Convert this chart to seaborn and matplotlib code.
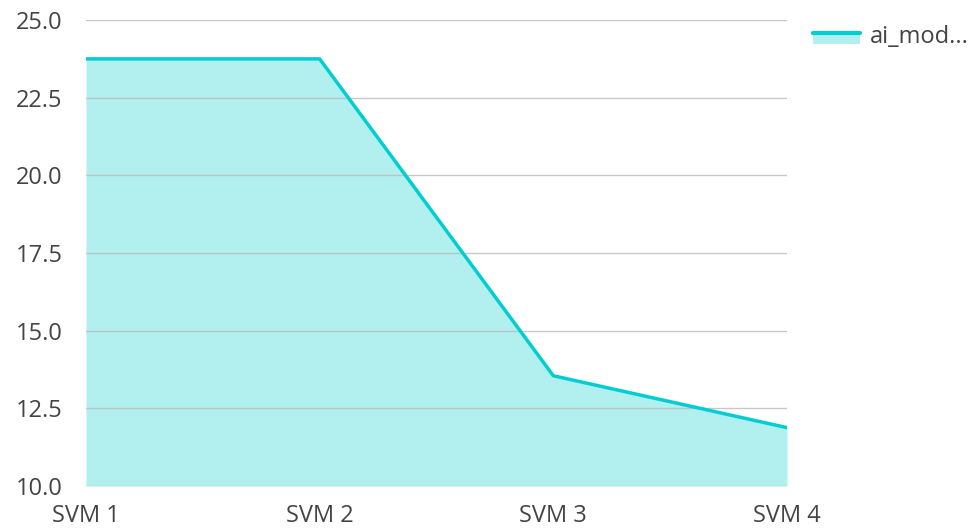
import matplotlib
matplotlib.use("Agg")
import matplotlib.pyplot as plt
import seaborn as sns
import pandas as pd
from matplotlib.legend_handler import HandlerBase
from matplotlib.patches import Rectangle
from matplotlib.lines import Line2D

# data
models = ["SVM 1", "SVM 2", "SVM 3", "SVM 4"]
scores = [23.75, 23.75, 13.55, 11.88]
series_label = "ai_mod..."

y_ticks = [10.0, 12.5, 15.0, 17.5, 20.0, 22.5, 25.0]

line_color = "#00CED1"
fill_color = "#B2EFEF"
text_color = "#444444"

df = pd.DataFrame({"model": models, "score": scores})
df["pos"] = range(len(models))

sns.set_theme(style="white")
plt.rcParams["font.family"] = ["Open Sans", "DejaVu Sans"]

fig = plt.figure(figsize=(9.77, 5.28), dpi=100)
ax = fig.add_axes([0.088, 0.0795, 0.7175, 0.8825])

ax.fill_between(df["pos"], 10, df["score"], color=fill_color, linewidth=0, zorder=1)
sns.lineplot(data=df, x="pos", y="score", color=line_color, linewidth=2.5,
             ax=ax, zorder=3, legend=False)

ax.set_xlim(0, len(models) - 1)
ax.set_ylim(10, 25)
ax.set_yticks(y_ticks)
ax.set_yticklabels([f"{v:.1f}" for v in y_ticks])
ax.set_xticks(df["pos"])
ax.set_xticklabels(models)
ax.set_xlabel("")
ax.set_ylabel("")

ax.yaxis.grid(True, color="#BBBBBB", linewidth=1, alpha=0.8, zorder=2)
ax.set_axisbelow(False)
for s in ax.spines.values():
    s.set_visible(False)
ax.tick_params(axis="both", length=0, labelsize=17, colors=text_color)
ax.tick_params(axis="y", pad=17)
ax.tick_params(axis="x", pad=13)


class AreaHandler(HandlerBase):
    def create_artists(self, legend, orig, xd, yd, w, h, fontsize, trans):
        rect = Rectangle((xd, yd - h * 0.1), w, h * 0.75, facecolor=fill_color,
                         edgecolor="none", transform=trans)
        ln = Line2D([xd, xd + w], [yd + h * 0.6, yd + h * 0.6], color=line_color,
                    linewidth=3, transform=trans)
        return [rect, ln]


proxy = Rectangle((0, 0), 1, 1)
fig.legend([proxy], [series_label], handler_map={Rectangle: AreaHandler()},
           loc="upper left", bbox_to_anchor=(0.827, 0.962), frameon=False,
           fontsize=17, labelcolor=text_color, handlelength=2.0,
           handletextpad=0.42, borderaxespad=0, borderpad=0.2)

fig.savefig("out.png", dpi=100)
